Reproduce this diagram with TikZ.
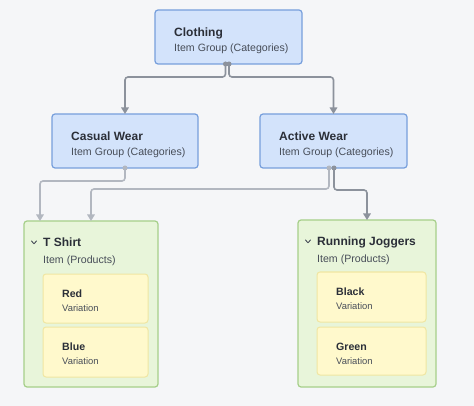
\documentclass[tikz,border=0pt]{standalone}
\usepackage{fontspec}
\setmainfont{Liberation Sans}
\usepackage{xcolor}
\usetikzlibrary{arrows.meta}

\definecolor{pagebg}{HTML}{F5F6F8}
\definecolor{groupfill}{HTML}{D3E3FB}
\definecolor{groupline}{HTML}{779FDC}
\definecolor{itemfill}{HTML}{E8F5DA}
\definecolor{itemline}{HTML}{A6CF8A}
\definecolor{varfill}{HTML}{FFF9CC}
\definecolor{varline}{HTML}{F0E6A2}
\definecolor{darkwire}{HTML}{8C929C}
\definecolor{lightwire}{HTML}{B2B7C0}
\definecolor{ink}{HTML}{2B2F38}
\definecolor{subink}{HTML}{474D58}

\tikzset{
  box/.style={anchor=north west, inner sep=0pt, outer sep=0pt, rounded corners=3pt, line width=1.2pt},
  groupbox/.style={box, fill=groupfill, draw=groupline},
  itembox/.style={box, fill=itemfill, draw=itemline},
  varbox/.style={box, fill=varfill, draw=varline, line width=1pt},
  title/.style={anchor=base west, inner sep=0pt, text=ink, font=\fontsize{12}{14}\selectfont\bfseries},
  subtitle/.style={anchor=base west, inner sep=0pt, text=subink, font=\fontsize{10.6}{12}\selectfont},
  vartitle/.style={anchor=base west, inner sep=0pt, text=ink, font=\fontsize{10.6}{12}\selectfont\bfseries},
  varsub/.style={anchor=base west, inner sep=0pt, text=subink, font=\fontsize{9.4}{11}\selectfont},
  wire/.style={line width=1.6pt, rounded corners=3pt, -{Triangle[width=7.5pt,length=6.5pt]}},
  port/.style={circle, inner sep=0pt, minimum size=5pt}
}

\begin{document}
\begin{tikzpicture}[x=1pt, y=-1pt]
  \fill[pagebg] (0,0) rectangle (474,406);

  % groups
  \node[groupbox, minimum width=147pt, minimum height=54pt] (clothing) at (155,10) {};
  \node[groupbox, minimum width=146pt, minimum height=54pt] (casual) at (52,114) {};
  \node[groupbox, minimum width=147pt, minimum height=54pt] (active) at (260,114) {};
  \foreach \g/\t in {clothing/Clothing, casual/Casual Wear, active/Active Wear} {
    \node[title] (\g-title) at ([shift={(19,27)}]\g.north west) {\t};
    \node[subtitle] (\g-sub) at ([shift={(19,42)}]\g.north west) {Item Group (Categories)};
  }

  % products
  \node[itembox, minimum width=134pt, minimum height=166pt] (tshirt) at (24,221) {};
  \node[itembox, minimum width=138pt, minimum height=167pt] (joggers) at (298,220) {};
  \foreach \p/\t in {tshirt/T Shirt, joggers/Running Joggers} {
    \node[title] (\p-title) at ([shift={(19,26)}]\p.north west) {\t};
    \node[subtitle] (\p-sub) at ([shift={(19,42)}]\p.north west) {Item (Products)};
    \draw[subink, line width=0.9pt, line cap=round, line join=round]
      ([shift={(7.5,20)}]\p.north west) -- ++(2.5,2.8) -- ++(2.5,-2.8);
  }

  % variations
  \foreach \v/\x/\y/\w/\h/\t in {red/43/274/105/49/Red, blue/43/327/105/50/Blue,
                                 black/317/272/109/50/Black, green/317/327/109/48/Green} {
    \node[varbox, minimum width=\w pt, minimum height=\h pt] (\v) at (\x,\y) {};
    \node[vartitle] (\v-title) at ([shift={(19,23)}]\v.north west) {\t};
    \node[varsub] (\v-sub) at ([shift={(19,37)}]\v.north west) {Variation};
  }

  % connectors
  \node[port, fill=darkwire] (p1) at ([xshift=-3pt]clothing.south) {};
  \node[port, fill=darkwire] (p2) at ([xshift=0.5pt]clothing.south) {};
  \draw[wire, darkwire] (p1.center) -- ++(0,13) -| (casual.north);
  \draw[wire, darkwire] (p2.center) -- ++(0,13) -| (active.north);

  \node[port, fill=lightwire] (p3) at (casual.south) {};
  \draw[wire, lightwire] (p3.center) -- ++(0,13) -| ([xshift=16pt]tshirt.north west);

  \node[port, fill=lightwire] (p4) at ([xshift=-4.5pt]active.south) {};
  \node[port, fill=darkwire] (p5) at ([xshift=0.5pt]active.south) {};
  \draw[wire, lightwire] (p4.center) -- ++(0,21) -| (tshirt.north);
  \draw[wire, darkwire] (p5.center) -- ++(0,22) -| (joggers.north);
\end{tikzpicture}
\end{document}
